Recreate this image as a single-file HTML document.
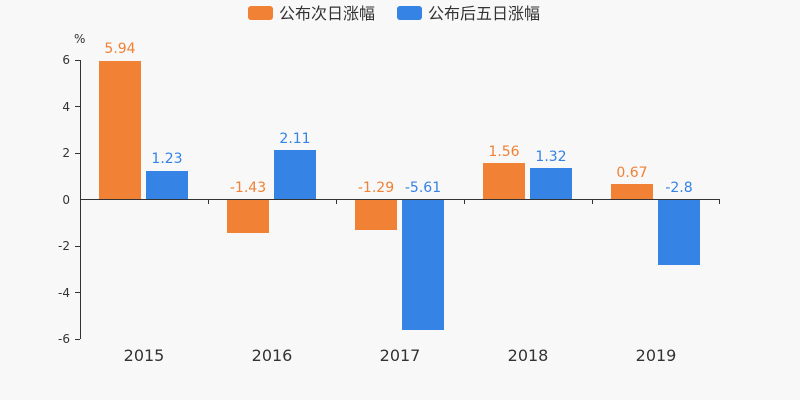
<!DOCTYPE html>
<html><head><meta charset="utf-8"><style>
body{margin:0;background:#f8f8f8;}
svg{display:block;font-family:"DejaVu Sans","Noto Sans CJK SC",sans-serif;}
</style></head><body>
<svg width="800" height="400" viewBox="0 0 800 400">
<rect width="800" height="400" fill="#f8f8f8"/>
<rect x="248" y="6" width="25" height="14" rx="3" fill="#f08135"/>
<text x="279" y="19" font-size="16" fill="#333" font-family="'Noto Sans CJK SC',sans-serif">公布次日涨幅</text>
<rect x="397" y="6" width="25" height="14" rx="3" fill="#3483e5"/>
<text x="428" y="19" font-size="16" fill="#333" font-family="'Noto Sans CJK SC',sans-serif">公布后五日涨幅</text>
<text x="74" y="43" font-size="12" fill="#333">%</text>
<line x1="80.5" y1="60" x2="80.5" y2="339" stroke="#333"/>
<g stroke="#333">
<line x1="75" y1="60.5" x2="80" y2="60.5"/><line x1="75" y1="153.5" x2="80" y2="153.5"/>
<line x1="75" y1="246.5" x2="80" y2="246.5"/><line x1="75" y1="292.5" x2="80" y2="292.5"/>
<line x1="75" y1="106.5" x2="80" y2="106.5"/><line x1="75" y1="339.5" x2="80" y2="339.5"/>
</g>
<g font-size="12" fill="#333" text-anchor="end">
<text x="70" y="64">6</text><text x="70" y="111">4</text><text x="70" y="157">2</text>
<text x="70" y="204">0</text><text x="70" y="250">-2</text><text x="70" y="297">-4</text><text x="70" y="343">-6</text>
</g>
<g fill="#f08135">
<rect x="99" y="61" width="42" height="138"/>
<rect x="227" y="199" width="42" height="34"/>
<rect x="355" y="199" width="42" height="31"/>
<rect x="483" y="163" width="42" height="36"/>
<rect x="611" y="184" width="42" height="15"/>
</g>
<g fill="#3483e5">
<rect x="146" y="171" width="42" height="28"/>
<rect x="274" y="150" width="42" height="49"/>
<rect x="402" y="199" width="42" height="131"/>
<rect x="530" y="168" width="42" height="31"/>
<rect x="658" y="199" width="42" height="66"/>
</g>
<line x1="80" y1="199.5" x2="720" y2="199.5" stroke="#333"/>
<g stroke="#333">
<line x1="208.5" y1="199" x2="208.5" y2="204"/><line x1="336.5" y1="199" x2="336.5" y2="204"/>
<line x1="464.5" y1="199" x2="464.5" y2="204"/><line x1="592.5" y1="199" x2="592.5" y2="204"/>
<line x1="719.5" y1="199" x2="719.5" y2="204"/>
</g>
<g font-size="14" text-anchor="middle">
<g fill="#f08135">
<text x="120" y="53">5.94</text><text x="248" y="192">-1.43</text><text x="376" y="192">-1.29</text>
<text x="504" y="156">1.56</text><text x="632" y="177">0.67</text>
</g>
<g fill="#3483e5">
<text x="167" y="163">1.23</text><text x="295" y="143">2.11</text><text x="423" y="192">-5.61</text>
<text x="551" y="161">1.32</text><text x="679" y="192">-2.8</text>
</g>
</g>
<g font-size="16" fill="#333" text-anchor="middle">
<text x="144" y="361">2015</text><text x="272" y="361">2016</text><text x="400" y="361">2017</text>
<text x="528" y="361">2018</text><text x="656" y="361">2019</text>
</g>
</svg>
</body></html>
